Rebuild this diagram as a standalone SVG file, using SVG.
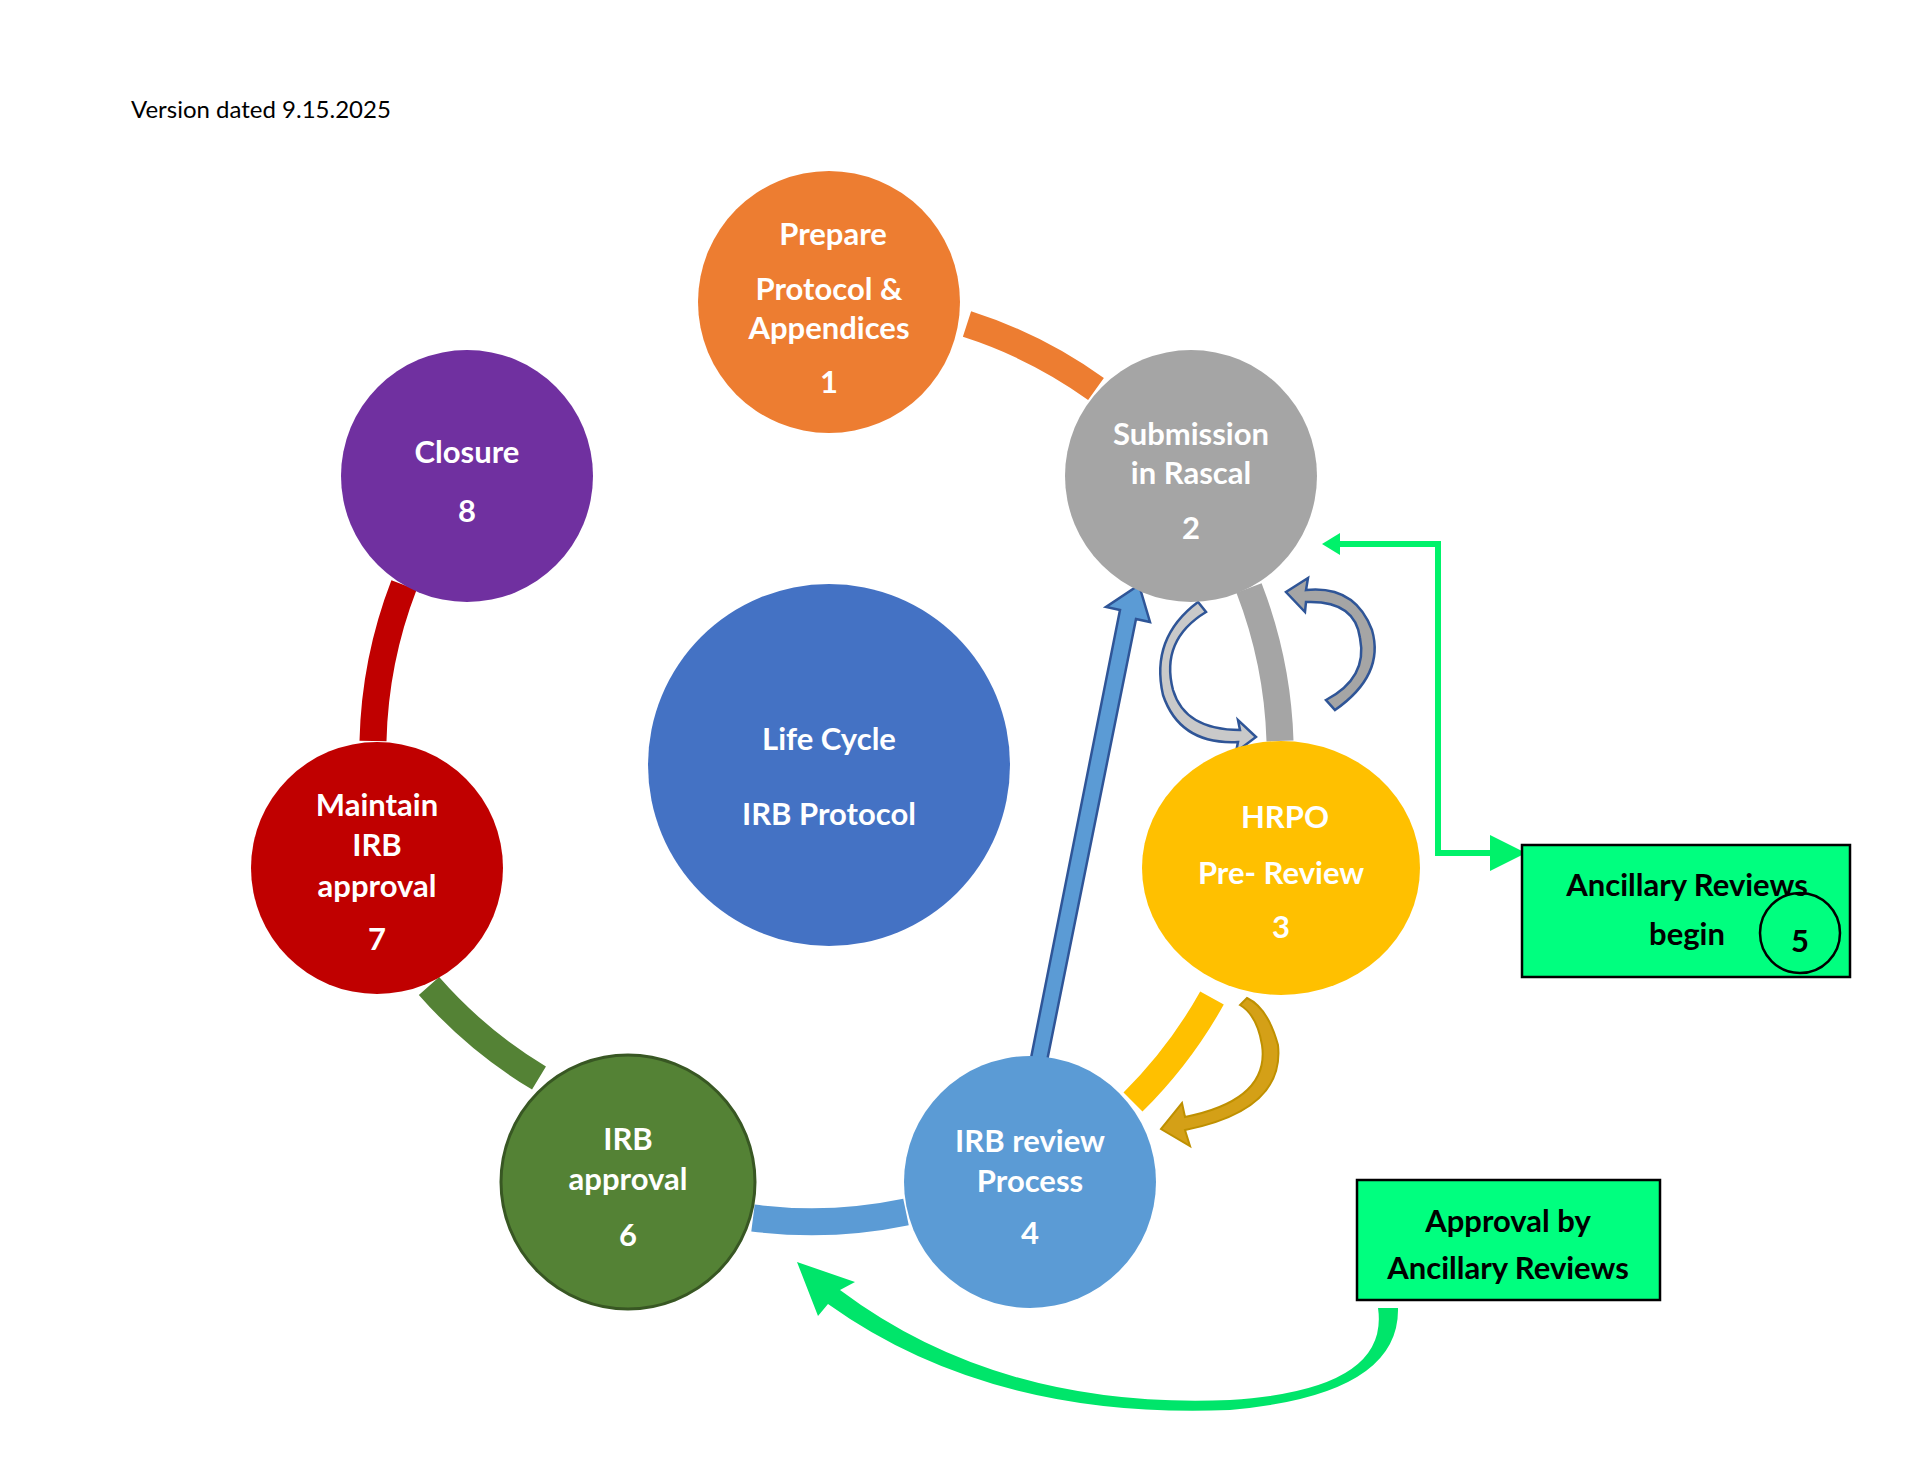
<svg xmlns="http://www.w3.org/2000/svg" width="1920" height="1483" viewBox="0 0 1920 1483">
<style>
.t{font-family:Lato,"Open Sans",sans-serif;font-weight:bold;fill:#fff;text-anchor:middle;font-size:31px}
.b{font-family:Lato,"Open Sans",sans-serif;font-weight:bold;fill:#000;text-anchor:middle;font-size:31px}
.ring{fill:none;stroke-width:27}
</style>
<defs>
<marker id="ga" markerWidth="6" markerHeight="6" refX="3" refY="3" orient="auto" markerUnits="strokeWidth"><path d="M0,0 L6,3 L0,6 Z" fill="#00f26a"/></marker>
</defs>
<rect width="1920" height="1483" fill="#fff"/>
<text x="131" y="118" font-family="Lato,sans-serif" font-size="24" fill="#000">Version dated 9.15.2025</text>
<g id="connectors">
<path class="ring" stroke="#ed7d31" d="M967,324 A463,463 0 0 1 1096,389"/>
<path class="ring" stroke="#a5a5a5" d="M1249,588 A463,463 0 0 1 1280,741"/>
<path class="ring" stroke="#ffc000" d="M1212,998 A463,463 0 0 1 1133,1102"/>
<path class="ring" stroke="#5b9bd5" d="M906,1212 A463,463 0 0 1 753,1218"/>
<path class="ring" stroke="#548235" d="M539,1078 A463,463 0 0 1 429,986"/>
<path class="ring" stroke="#c00000" d="M373,741 A463,463 0 0 1 404,585"/>
<path d="M1515,853 H1438 V544 H1340" fill="none" stroke="#00f26a" stroke-width="6"/>
<path d="M1340,533 L1322,544 L1340,555 Z" fill="#00f26a"/>
<path d="M1505,853 H1508" stroke="#00f26a" stroke-width="6" marker-end="url(#ga)"/>
<path d="M1031,1058 L1120,610 L1106,607 L1139,585 L1150,622 L1136,619 L1047,1061 Z" fill="#5b9bd5" stroke="#2f5597" stroke-width="2.5"/>
<path d="M1247,998 Q1268,1008 1278,1045 Q1285,1110 1185,1130 L1190,1146 L1161,1129 L1182,1103 L1185,1117 Q1270,1100 1262,1045 Q1257,1015 1240,1005 Z" fill="#d4a017" stroke="#bf9000" stroke-width="2"/>
<path d="M1206,612 Q1160,640 1173,690 Q1185,730 1240,730 L1238,720 L1256,737 L1236,752 L1238,742 Q1180,745 1163,695 Q1150,638 1198,602 Z" fill="#c9c9c9" stroke="#2f5597" stroke-width="2.5"/>
<path d="M1335,710 Q1385,675 1372,630 Q1355,585 1306,590 L1308,578 L1286,592 L1305,612 L1306,602 Q1355,600 1360,638 Q1368,678 1326,700 Z" fill="#a5a5a5" stroke="#2f5597" stroke-width="2.5"/>
<path d="M1378,1308 Q1390,1390 1230,1400 Q1000,1410 840,1290 L855,1282 L797,1262 L818,1316 L828,1304 Q990,1420 1230,1410 Q1400,1395 1398,1308 Z" fill="#00e56a"/>
</g>
<g id="n1"><circle cx="829" cy="302" r="131" fill="#ed7d31"/><text class="t" x="833" y="245">Prepare</text><text class="t" x="829" y="300">Protocol &amp;</text><text class="t" x="829" y="339">Appendices</text><text class="t" x="829" y="393">1</text></g>
<g id="n2"><circle cx="1191" cy="476" r="126" fill="#a5a5a5"/><text class="t" x="1191" y="445">Submission</text><text class="t" x="1191" y="484">in Rascal</text><text class="t" x="1191" y="539">2</text></g>
<g id="n3"><ellipse cx="1281" cy="868" rx="139" ry="127" fill="#ffc000"/><text class="t" x="1285" y="828">HRPO</text><text class="t" x="1281" y="884">Pre- Review</text><text class="t" x="1281" y="938">3</text></g>
<g id="n4"><circle cx="1030" cy="1182" r="126" fill="#5b9bd5"/><text class="t" x="1030" y="1152">IRB review</text><text class="t" x="1030" y="1192">Process</text><text class="t" x="1030" y="1244">4</text></g>
<g id="n6"><circle cx="628" cy="1182" r="127" fill="#548235" stroke="#385723" stroke-width="3"/><text class="t" x="628" y="1150">IRB</text><text class="t" x="628" y="1190">approval</text><text class="t" x="628" y="1246">6</text></g>
<g id="n7"><circle cx="377" cy="868" r="126" fill="#c00000"/><text class="t" x="377" y="816">Maintain</text><text class="t" x="377" y="856">IRB</text><text class="t" x="377" y="897">approval</text><text class="t" x="377" y="950">7</text></g>
<g id="n8"><circle cx="467" cy="476" r="126" fill="#7030a0"/><text class="t" x="467" y="463">Closure</text><text class="t" x="467" y="522">8</text></g>
<g id="center"><circle cx="829" cy="765" r="181" fill="#4472c4"/><text class="t" x="829" y="750" font-size="44">Life Cycle</text><text class="t" x="829" y="825" font-size="44">IRB Protocol</text></g>
<g id="box5"><rect x="1522" y="845" width="328" height="132" fill="#00ff7f" stroke="#000" stroke-width="2.5"/><text class="b" x="1687" y="896">Ancillary Reviews</text><text class="b" x="1687" y="945">begin</text><circle cx="1800" cy="933" r="40" fill="none" stroke="#000" stroke-width="2.5"/><text class="b" x="1800" y="952" font-size="28">5</text></g>
<g id="box"><rect x="1357" y="1180" width="303" height="120" fill="#00ff7f" stroke="#000" stroke-width="2.5"/><text class="b" x="1508" y="1232">Approval by</text><text class="b" x="1508" y="1279">Ancillary Reviews</text></g>
</svg>
